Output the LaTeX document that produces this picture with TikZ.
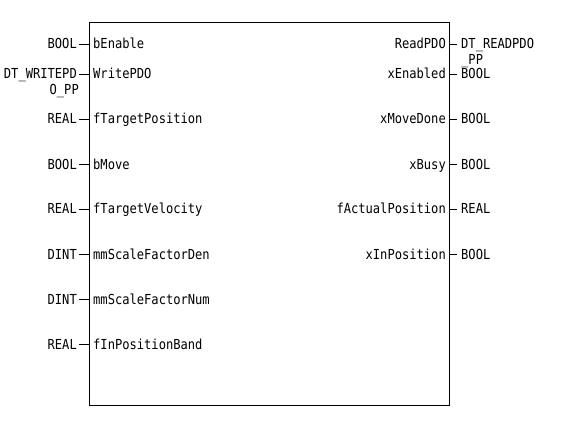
\documentclass[tikz,border=0pt]{standalone}
\usepackage{fontspec}
\setmonofont{DejaVu Sans Mono}
\newcommand\tallt[1]{\scalebox{1}[1.14]{#1}}
\begin{document}
\begin{tikzpicture}[x=1pt,y=-1pt,
  txt/.style={font=\ttfamily\fontsize{12.1}{14}\selectfont,inner sep=0pt,text height=10pt,text depth=0pt},
  ltyp/.style={txt,anchor=east,inner xsep=2pt},
  rtyp/.style={txt,anchor=west,inner xsep=4pt}]
\useasboundingbox (0,0) rectangle (582,436);
\node[draw,line width=1pt,minimum width=360pt,minimum height=383pt,anchor=north west,inner sep=0pt](fb) at (89,22){};

% inputs
\foreach \i/\y/\nm/\typ in {1/44/bEnable/BOOL,2/74/WritePDO/DT\_WRITEPD,3/119/fTargetPosition/REAL,
  4/164/bMove/BOOL,5/209/fTargetVelocity/REAL,6/254/mmScaleFactorDen/DINT,
  7/299/mmScaleFactorNum/DINT,8/344/fInPositionBand/REAL}{
  \node[txt,anchor=west](in\i) at (93,\y){\tallt{\nm}};
  \node[ltyp](ti\i) at (79,\y){\tallt{\typ}};
  \draw[line width=.8pt](ti\i.east)--(ti\i.east -| fb.west);
}
\node[txt,anchor=north east](ti2b) at ([yshift=-5pt]ti2.south east){\tallt{O\_PP}};

% outputs
\foreach \i/\y/\nm/\typ in {1/44/ReadPDO/DT\_READPDO,2/74/xEnabled/BOOL,3/119/xMoveDone/BOOL,
  4/164/xBusy/BOOL,5/209/fActualPosition/REAL,6/254/xInPosition/BOOL}{
  \node[txt,anchor=east](out\i) at (446,\y){\tallt{\nm}};
  \node[rtyp](to\i) at (457,\y){\tallt{\typ}};
  \draw[line width=.8pt](to\i.west)--(to\i.west -| fb.east);
}
\node[txt,anchor=north west](to1b) at ([yshift=-5pt,xshift=4pt]to1.south west){\tallt{\_PP}};

\end{tikzpicture}
\end{document}
